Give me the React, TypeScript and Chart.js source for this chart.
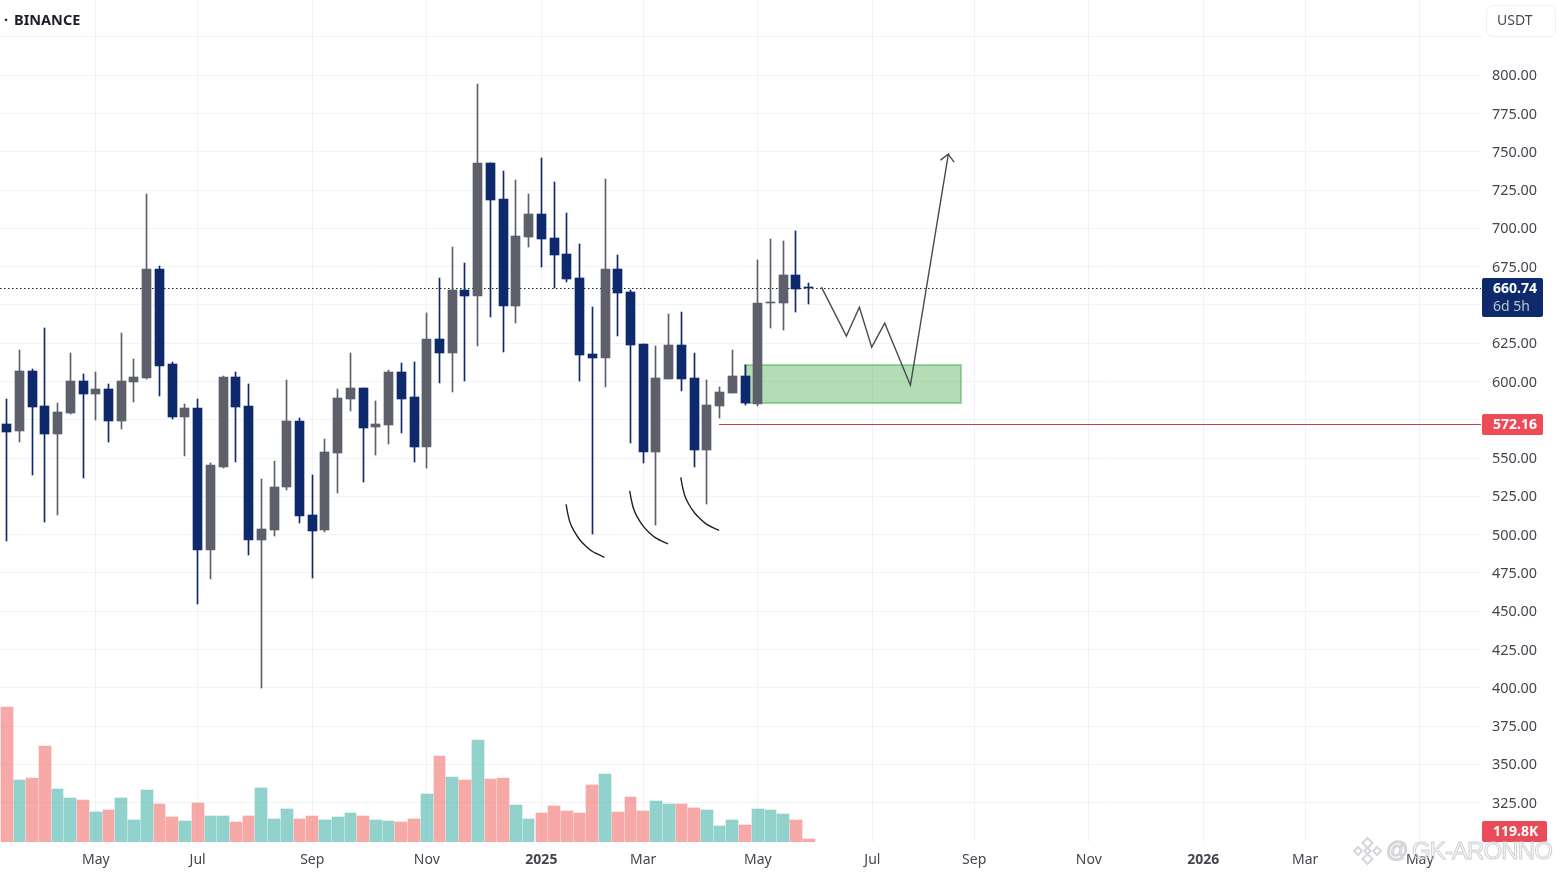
import { useEffect, useRef } from "react"
import { Chart, registerables } from "chart.js"

Chart.register(...registerables)

const opens = [
  572.1, 567.6, 606.8, 583.9, 565.6, 579.3, 600.2, 591.7, 595.0, 574.1, 599.6, 602.2, 673.3, 611.3, 576.7, 582.6,
  489.9, 544.1, 602.8, 583.9, 496.4, 502.9, 531.0, 574.1, 512.7, 502.9, 553.2, 588.5, 595.6, 570.2, 571.5, 606.1,
  589.8, 557.1, 627.6, 618.5, 659.6, 655.7, 742.5, 719.0, 649.2, 694.2, 709.2, 693.6, 683.1, 667.5, 617.8, 615.2,
  673.3, 658.3, 624.4, 553.9, 601.5, 623.7, 602.2, 555.2, 583.9, 592.4, 603.5, 585.2, 651.1, 651.1, 669.4, 661.4,
]
const closes = [
  566.9, 606.8, 583.2, 565.6, 580.0, 600.2, 591.7, 595.0, 574.1, 600.2, 602.8, 673.3, 610.0, 576.7, 582.6, 489.9,
  545.4, 602.8, 583.2, 496.4, 503.6, 531.0, 574.1, 512.1, 502.3, 553.9, 589.1, 595.6, 569.5, 572.1, 606.1, 588.5,
  557.1, 627.6, 618.5, 659.6, 655.7, 742.5, 718.4, 649.2, 694.9, 709.2, 692.9, 682.5, 666.8, 617.2, 615.2, 673.3,
  657.7, 623.7, 553.9, 602.2, 623.7, 601.5, 555.2, 584.5, 593.0, 603.5, 585.8, 651.1, 651.8, 669.4, 660.3, 660.74,
]
const highs = [
  588.5, 620.4, 608.1, 634.8, 585.8, 618.5, 604.8, 606.1, 598.3, 631.6, 614.6, 722.3, 675.3, 612.6, 585.2, 588.5,
  546.7, 603.5, 606.1, 598.3, 536.2, 548.0, 600.9, 576.1, 538.8, 562.3, 595.0, 618.5, 595.6, 587.2, 607.4, 612.0,
  612.6, 644.6, 667.5, 687.7, 677.3, 794.1, 742.5, 737.3, 731.4, 722.3, 745.8, 730.1, 709.9, 689.7, 648.5, 732.1,
  682.5, 659.6, 624.4, 623.1, 644.0, 645.3, 618.5, 600.9, 596.3, 620.4, 610.7, 679.2, 692.9, 691.6, 698.2, 664.2,
]
const lows = [
  495.8, 560.4, 538.8, 508.2, 512.7, 578.7, 536.9, 574.7, 560.4, 568.9, 586.5, 601.5, 590.4, 575.4, 551.2, 454.6,
  470.9, 543.4, 547.3, 486.6, 399.8, 499.0, 529.0, 507.5, 471.6, 501.6, 527.1, 580.6, 534.3, 551.9, 559.1, 566.3,
  547.3, 543.4, 598.9, 593.0, 600.2, 623.1, 642.0, 619.2, 638.1, 687.7, 674.6, 660.9, 664.9, 600.2, 500.3, 596.3,
  629.6, 559.7, 546.7, 506.2, 601.5, 593.7, 544.1, 519.9, 576.1, 592.4, 584.5, 583.9, 634.8, 633.5, 645.3, 650.5,
]
// volume in thousands
const volumes = [
  5400, 2480, 2560, 3840, 2120, 1760, 1680, 1200, 1280, 1760, 880, 2080, 1520, 1000, 840, 1560,
  1040, 1040, 800, 1040, 2160, 920, 1320, 920, 1040, 880, 1000, 1160, 1040, 880, 840, 800,
  920, 1920, 3440, 2600, 2480, 4080, 2520, 2560, 1480, 920, 1160, 1440, 1240, 1160, 2280, 2720,
  1200, 1800, 1240, 1640, 1520, 1520, 1360, 1280, 640, 880, 680, 1320, 1280, 1120, 880, 119.8,
]

const priceTicks = [825, 800, 775, 750, 725, 700, 675, 650, 625, 600, 575, 550, 525, 500, 475, 450, 425, 400, 375, 350, 325]
const hiddenPriceLabels = [825, 650, 575]
const timeTicks = [7, 15, 24, 33, 42, 50, 59, 68, 76, 85, 94, 102, 111]
const timeLabels = ["May", "Jul", "Sep", "Nov", "2025", "Mar", "May", "Jul", "Sep", "Nov", "2026", "Mar", "May"]
const yearLabels = ["2025", "2026"]

const lastPrice = 660.74
const countdown = "6d 5h"
const redLevel = 572.16
const redLevelStart = 55.95
const lastVolume = "119.8K"
const zone = { x0: 58, x1: 74.95, top: 610.7, bottom: 585.8 }

const forecastPath = [
  { x: 64.0, y: 661.6 }, { x: 65.96, y: 629.6 }, { x: 66.98, y: 648.5 }, { x: 67.95, y: 622.4 }, { x: 68.97, y: 638.1 },
  { x: 70.99, y: 597.6 }, { x: 73.97, y: 748.4 }, { x: 73.35, y: 744.5 }, { x: 73.97, y: 748.4 }, { x: 74.42, y: 743.2 },
]
const arcLeft = [
  { x: 43.94, y: 519.8 }, { x: 44.07, y: 513.9 }, { x: 44.25, y: 508.0 }, { x: 44.56, y: 502.4 }, { x: 45.03, y: 496.5 },
  { x: 45.48, y: 492.6 }, { x: 45.95, y: 489.3 }, { x: 46.42, y: 487.2 }, { x: 46.95, y: 485.2 },
]
const arcMiddle = [
  { x: 48.94, y: 528.5 }, { x: 49.07, y: 522.6 }, { x: 49.25, y: 516.7 }, { x: 49.56, y: 511.1 }, { x: 50.03, y: 505.2 },
  { x: 50.48, y: 501.3 }, { x: 50.95, y: 498.0 }, { x: 51.42, y: 495.9 }, { x: 51.95, y: 493.9 },
]
const arcRight = [
  { x: 52.95, y: 537.4 }, { x: 53.08, y: 531.5 }, { x: 53.26, y: 525.6 }, { x: 53.57, y: 520.0 }, { x: 54.04, y: 514.1 },
  { x: 54.49, y: 510.2 }, { x: 54.96, y: 506.9 }, { x: 55.43, y: 504.8 }, { x: 55.96, y: 502.8 },
]

const UP = "#5d606b"
const DOWN = "#0e2a6d"
const FONT = '"Noto Sans", sans-serif'
const X_MIN = -0.526
const X_MAX = 115.81
const LEVEL_DATASETS = [1, 4]

// Snap bars to whole pixels the way the trading chart does, so wicks stay 1px crisp
const snapPlugin = {
  id: "snap",
  afterDatasetsUpdate(chart: Chart) {
    chart.data.datasets.forEach((_, index) => {
      const meta = chart.getDatasetMeta(index)
      if (meta.type !== "bar") return
      meta.data.forEach((bar: any) => {
        const left = Math.round(bar.x - bar.width / 2)
        const right = Math.round(bar.x + bar.width / 2)
        const top = Math.round(bar.y)
        const bottom = Math.round(bar.base)
        bar.x = (left + right) / 2
        bar.width = right - left
        bar.y = top
        bar.base = bottom === top ? top + 1 : bottom
      })
    })
  },
  beforeDatasetDraw(chart: Chart, args: any) {
    if (!LEVEL_DATASETS.includes(args.index)) return
    const y = chart.scales.y.getPixelForValue(args.index === 1 ? lastPrice : redLevel)
    chart.ctx.save()
    chart.ctx.translate(0, Math.round(y - 0.5) + 0.5 - y)
  },
  afterDatasetDraw(chart: Chart, args: any) {
    if (LEVEL_DATASETS.includes(args.index)) chart.ctx.restore()
  },
}

// Things the library has no mark for: the zone behind the candles, and the badges on top
const overlayPlugin = {
  id: "overlay",
  beforeDatasetsDraw(chart: Chart) {
    const { ctx, scales } = chart
    const x0 = Math.round(scales.x.getPixelForValue(zone.x0))
    const x1 = Math.round(scales.x.getPixelForValue(zone.x1))
    const y0 = Math.round(scales.y.getPixelForValue(zone.top))
    const y1 = Math.round(scales.y.getPixelForValue(zone.bottom))
    ctx.save()
    ctx.fillStyle = "rgba(76, 175, 80, 0.42)"
    ctx.fillRect(x0, y0, x1 - x0, y1 - y0)
    ctx.strokeStyle = "rgba(76, 175, 80, 0.5)"
    ctx.lineWidth = 2
    ctx.strokeRect(x0, y0, x1 - x0, y1 - y0)
    ctx.restore()
  },
  afterDraw(chart: Chart) {
    const { ctx, scales } = chart
    const yLast = Math.round(scales.y.getPixelForValue(lastPrice))
    const yRed = Math.round(scales.y.getPixelForValue(redLevel))
    ctx.save()
    ctx.textBaseline = "middle"

    // top left title
    ctx.fillStyle = "#1b1e28"
    ctx.font = `bold 14.5px ${FONT}`
    ctx.fillText("·", 4, 21)
    ctx.fillText("BINANCE", 14, 21)

    // currency button
    ctx.strokeStyle = "#eef0f3"
    ctx.lineWidth = 1
    ctx.beginPath()
    ctx.roundRect(1486.5, 5.5, 69, 31, 6)
    ctx.stroke()
    ctx.fillStyle = "#474a54"
    ctx.font = `14px ${FONT}`
    ctx.fillText("USDT", 1497, 21.5)

    // last price badge
    ctx.fillStyle = DOWN
    ctx.beginPath()
    ctx.roundRect(1482, yLast - 10, 61, 39, 2)
    ctx.fill()
    ctx.fillStyle = "#ffffff"
    ctx.font = `bold 14px ${FONT}`
    ctx.fillText(lastPrice.toFixed(2), 1493, yLast + 1.5)
    ctx.fillStyle = "#b9c6cc"
    ctx.font = `14px ${FONT}`
    ctx.fillText(countdown, 1493, yLast + 19.5)

    // red level badge
    ctx.fillStyle = "#ef4b56"
    ctx.beginPath()
    ctx.roundRect(1482, yRed - 10, 61, 21, 2)
    ctx.fill()
    ctx.fillStyle = "#ffffff"
    ctx.font = `bold 14px ${FONT}`
    ctx.fillText(redLevel.toFixed(2), 1493, yRed + 1.5)

    // volume badge
    ctx.fillStyle = "#e94c58"
    ctx.beginPath()
    ctx.roundRect(1482, 821, 65, 21, 2)
    ctx.fill()
    ctx.fillStyle = "#ffffff"
    ctx.fillText(lastVolume, 1493, 832.5)

    // watermark
    ctx.strokeStyle = "#cdd0d4"
    ctx.lineWidth = 1
    ctx.font = '24px "Liberation Sans", sans-serif'
    ctx.letterSpacing = "-0.9px"
    ctx.strokeText("GK-ARONNO", 1412, 852)
    ctx.letterSpacing = "0px"
    ctx.lineWidth = 1.5
    ctx.font = '22px "Liberation Sans", sans-serif'
    ctx.strokeStyle = "#d4d6da"
    ctx.strokeText("@", 1386, 851)
    ctx.lineWidth = 2
    const diamond = (cx: number, cy: number, r: number) => {
      ctx.beginPath()
      ctx.moveTo(cx, cy - r)
      ctx.lineTo(cx + r, cy)
      ctx.lineTo(cx, cy + r)
      ctx.lineTo(cx - r, cy)
      ctx.closePath()
      ctx.stroke()
    }
    diamond(1367.5, 843, 5)
    diamond(1367.5, 859, 5)
    diamond(1358, 851, 4)
    diamond(1377, 851, 4)
    diamond(1367.5, 851, 3)
    ctx.restore()
  },
}

function lineSet(data: { x: number; y: number }[], color: string, order: number, extra = {}) {
  return {
    type: "line" as const,
    data,
    borderColor: color,
    borderWidth: 1.4,
    pointRadius: 0,
    tension: 0,
    yAxisID: "y",
    order,
    ...extra,
  }
}

export default function App() {
  const canvasRef = useRef<HTMLCanvasElement>(null)

  useEffect(() => {
    document.body.style.margin = "0"
    if (!canvasRef.current) return

    const colors = opens.map((o, i) => (closes[i] >= o ? UP : DOWN))
    const volColors = opens.map((o, i) => (closes[i] >= o ? "rgba(38, 166, 154, 0.5)" : "rgba(239, 83, 80, 0.5)"))

    const chart = new Chart(canvasRef.current, {
      type: "bar",
      data: {
        datasets: [
          {
            data: volumes.map((v, i) => ({ x: i, y: v })),
            backgroundColor: volColors,
            barThickness: 11.7,
            grouped: false,
            yAxisID: "vol",
            order: 6,
          },
          lineSet(
            [{ x: X_MIN, y: lastPrice }, { x: X_MAX, y: lastPrice }],
            "#1a1d26",
            5,
            { borderWidth: 1, borderDash: [1.5, 2.5] },
          ),
          {
            data: highs.map((h, i) => ({ x: i, y: [lows[i], h] })),
            backgroundColor: colors,
            barThickness: 1,
            grouped: false,
            yAxisID: "y",
            order: 4,
          },
          {
            data: opens.map((o, i) => ({ x: i, y: [Math.min(o, closes[i]), Math.max(o, closes[i])] })),
            backgroundColor: colors,
            barThickness: 9,
            grouped: false,
            yAxisID: "y",
            order: 3,
          },
          lineSet(
            [{ x: redLevelStart, y: redLevel }, { x: X_MAX, y: redLevel }],
            "#c9404c",
            2,
            { borderWidth: 1 },
          ),
          lineSet(arcLeft, "#1f2229", 1, { tension: 0.2 }),
          lineSet(arcMiddle, "#1f2229", 1, { tension: 0.2 }),
          lineSet(arcRight, "#1f2229", 1, { tension: 0.2 }),
          lineSet(forecastPath, "#4a4b52", 0),
        ],
      } as any,
      plugins: [snapPlugin, overlayPlugin],
      options: {
        responsive: false,
        animation: false,
        events: [],
        layout: { padding: 0 },
        plugins: { legend: { display: false }, tooltip: { enabled: false } },
        scales: {
          x: {
            type: "linear",
            min: X_MIN,
            max: X_MAX,
            offset: false,
            grid: { color: "#f2f3f6", drawTicks: false, offset: false },
            border: { display: false },
            afterBuildTicks: (scale: any) => {
              scale.ticks = timeTicks.map((value) => ({ value }))
            },
            afterFit: (scale: any) => {
              scale.height = 35
              scale.paddingLeft = 0
              scale.paddingRight = 0
            },
            ticks: {
              autoSkip: false,
              maxRotation: 0,
              padding: 10,
              color: "#43464f",
              callback: (value: any) => timeLabels[timeTicks.indexOf(Number(value))],
              font: (ctx: any) => {
                const label = timeLabels[timeTicks.indexOf(ctx.tick?.value)]
                return { family: FONT, size: 14, weight: yearLabels.includes(label) ? "bold" : "normal" }
              },
            },
          },
          y: {
            type: "linear",
            position: "right",
            min: 299.31,
            max: 849.08,
            grid: { color: "#f2f3f6", drawTicks: false },
            border: { display: false },
            afterBuildTicks: (scale: any) => {
              scale.ticks = priceTicks.map((value) => ({ value }))
            },
            afterFit: (scale: any) => {
              scale.width = 80
              scale.paddingTop = 0
              scale.paddingBottom = 0
            },
            ticks: {
              padding: 11,
              labelOffset: 1,
              color: "#43464f",
              font: { family: FONT, size: 14.4 },
              callback: (value: any) => (hiddenPriceLabels.includes(Number(value)) ? "" : Number(value).toFixed(2)),
            },
          },
          vol: {
            type: "linear",
            display: false,
            min: 0,
            max: 33680,
            afterFit: (scale: any) => {
              scale.paddingTop = 0
              scale.paddingBottom = 0
            },
          },
        },
      } as any,
    })

    return () => chart.destroy()
  }, [])

  return <canvas ref={canvasRef} width={1561} height={877} style={{ display: "block" }} />
}
